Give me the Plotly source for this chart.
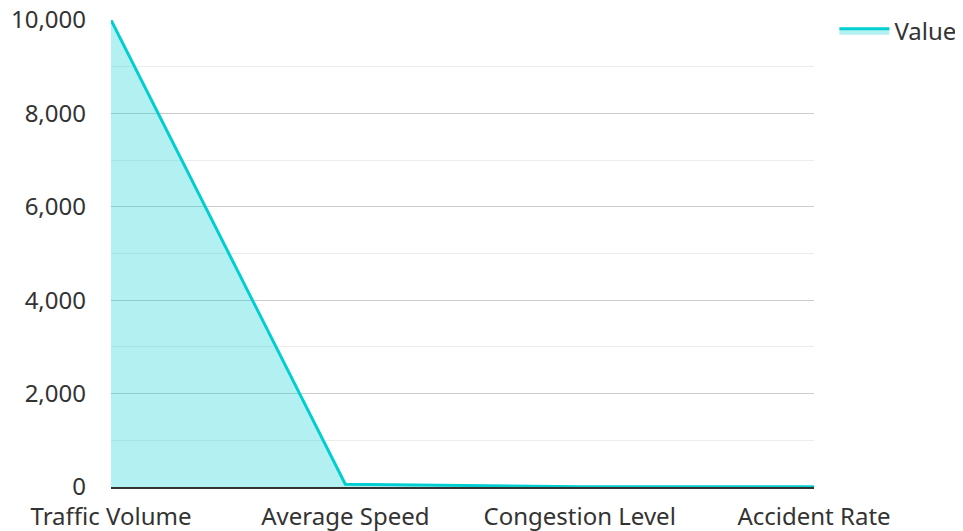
import plotly.graph_objects as go

categories = ["Traffic Volume", "Average Speed", "Congestion Level", "Accident Rate"]
values = [10000, 60, 8, 3]
y_ticks = [0, 2000, 4000, 6000, 8000, 10000]

fig = go.Figure()
fig.add_trace(go.Scatter(
    x=categories, y=values, name="Value", mode="lines",
    line=dict(color="#00CED1", width=3),
    fill="tozeroy", fillcolor="rgba(0,206,209,0.3)",
    showlegend=True,
))

fig.update_layout(
    width=963, height=531,
    margin=dict(l=103, r=157, t=12, b=52, autoexpand=False),
    paper_bgcolor="white", plot_bgcolor="white",
    font=dict(family="Noto Sans", size=24, color="#333"),
    legend=dict(x=1.029, y=0.976, xanchor="left", yanchor="middle",
                font=dict(size=24), bgcolor="rgba(0,0,0,0)", itemwidth=50),
    xaxis=dict(range=[0, 3], showgrid=False, showline=True, linecolor="#333", linewidth=2,
               ticks="", tickfont=dict(size=24), ticklabelstandoff=7,
               ticklabeloverflow="allow"),
    yaxis=dict(range=[0, 10000], tickvals=y_ticks, tickformat=",",
               showgrid=True, gridcolor="#cccccc", gridwidth=1,
               minor=dict(dtick=1000, showgrid=True, gridcolor="#ececec", gridwidth=1),
               zeroline=False, showline=False, ticks="", tickfont=dict(size=24),
               ticklabelstandoff=24, ticklabeloverflow="allow"),
)

fig.write_html("out.html")
